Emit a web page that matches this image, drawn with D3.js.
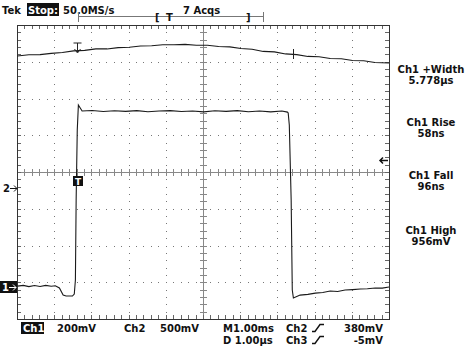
<!DOCTYPE html>
<meta charset="utf-8">
<script src="https://d3js.org/d3.v7.min.js"></script>
<style>
	body{margin:0;background:#fff;}
	text{font-family:"DejaVu Sans",sans-serif;font-size:10px;font-weight:bold;fill:#111;}
</style>
<div id="chart"></div>
<script>

// Ch1 pulse: time in µs from trigger, level in mV (200mV/div)
var ch1Time = [-1.61,-1.45,-1.3,-1.15,-1.0,-0.85,-0.7,-0.59,-0.48,-0.38,-0.3,-0.13,-0.08,-0.05,-0.03,0,0.03,0.08,
	0.13,0.4,0.7,1.0,1.3,1.6,1.9,2.2,2.5,2.8,3.1,3.4,3.7,4.0,4.3,4.6,4.9,5.2,5.5,5.65,
	5.67,5.70,5.75,5.78,5.81,5.99,6.2,6.4,6.6,6.8,7.0,7.2,7.4,7.61,7.8,8.01,8.2,8.38]
var ch1Volt = [5,9,2,8,3,9,4,7,-5,-44,-49,-49,-38,38,473,854,990,974,
	958,961,955,959,956,960,954,958,960,955,958,953,959,956,960,954,958,953,958,952,
	947,882,473,-16,-60,-44,-40,-33,-30,-22,-24,-16,-14,-11,-9,-5,-6,0]

// Ch2: time in µs, level in mV (500mV/div)
var ch2Time = [-1.61,-1.3,-1.0,-0.7,-0.4,-0.1,0.2,0.5,0.8,1.1,1.4,1.7,2.0,2.3,2.6,2.9,3.2,3.5,3.8,4.1,4.4,4.7,5.0,5.3,5.6,5.9,6.2,6.5,6.8,7.1,7.4,7.7,8.0,8.38]
var ch2Volt = [1796,1812,1815,1832,1844,1866,1872,1892,1892,1910,1914,1932,1935,1948,1948,1954,1942,1942,1926,1920,1898,1888,1858,1852,1824,1814,1790,1786,1762,1758,1735,1731,1708,1701]

var readoutNames = ["Ch1 +Width","Ch1 Rise","Ch1 Fall","Ch1 High"]
var readoutValues = ["5.778µs","58ns","96ns","956mV"]

var statusTop = ["200mV","Ch2","500mV","M1.00ms","Ch2","380mV"]
var statusBottom = ["D 1.00µs","Ch3","-5mV"]

var trigDiv = 1.62      // trigger position, divisions from left
var ch1Pos = -3.13      // ground marker, divisions from centre
var ch2Pos = -0.435

const svg = d3.select("#chart").append("svg")
	.attr("width",474).attr("height",355)

var divX = d3.scaleLinear().domain([0,10]).range([17,389])
var divY = d3.scaleLinear().domain([-4,4]).range([319,25])
var xScale = d3.scaleLinear().domain([-trigDiv,10-trigDiv]).range(divX.range())
var y1 = d3.scaleLinear().domain([(-4-ch1Pos)*200,(4-ch1Pos)*200]).range(divY.range())
var y2 = d3.scaleLinear().domain([(-4-ch2Pos)*500,(4-ch2Pos)*500]).range(divY.range())

var grid = svg.append("g")
var minorX = d3.range(0,50.01,1).map(d=>d/5)
var minorY = d3.range(-20,20.01,1).map(d=>d/5)

// dotted grid lines
for(var i=1;i<10;i++){
	if(i==5) continue
	minorY.forEach(function(v){
		grid.append("rect").attr("x",Math.round(divX(i))).attr("y",Math.round(divY(v))).attr("width",1).attr("height",1).attr("fill","#777")
	})
}
for(var j=-3;j<=3;j++){
	if(j==0) continue
	minorX.forEach(function(v){
		grid.append("rect").attr("x",Math.round(divX(v))).attr("y",Math.round(divY(j))).attr("width",1).attr("height",1).attr("fill","#777")
	})
}
// centre cross with minor ticks
grid.append("line").attr("x1",divX(0)).attr("x2",divX(10)).attr("y1",divY(0)+0.5).attr("y2",divY(0)+0.5).attr("stroke","#888")
grid.append("line").attr("x1",divX(5)+0.5).attr("x2",divX(5)+0.5).attr("y1",divY(-4)).attr("y2",divY(4)).attr("stroke","#888")
minorX.forEach(function(v){
	var px = Math.round(divX(v))+0.5
	grid.append("line").attr("x1",px).attr("x2",px).attr("y1",divY(0)-3).attr("y2",divY(0)+4).attr("stroke","#888")
	grid.append("line").attr("x1",px).attr("x2",px).attr("y1",divY(4)).attr("y2",divY(4)+4).attr("stroke","#666")
	grid.append("line").attr("x1",px).attr("x2",px).attr("y1",divY(-4)).attr("y2",divY(-4)-4).attr("stroke","#666")
})
minorY.forEach(function(v){
	var py = Math.round(divY(v))+0.5
	grid.append("line").attr("y1",py).attr("y2",py).attr("x1",divX(5)-3).attr("x2",divX(5)+4).attr("stroke","#888")
	grid.append("line").attr("y1",py).attr("y2",py).attr("x1",divX(0)).attr("x2",divX(0)+4).attr("stroke","#666")
	grid.append("line").attr("y1",py).attr("y2",py).attr("x1",divX(10)).attr("x2",divX(10)-4).attr("stroke","#666")
})
grid.append("rect").attr("x",divX(0)+0.5).attr("y",divY(4)+0.5)
	.attr("width",divX(10)-divX(0)).attr("height",divY(-4)-divY(4))
	.attr("fill","none").attr("stroke","#333")

// traces
var line1 = d3.line().x(function(d,i){return xScale(ch1Time[i])}).y(function(d){return y1(d)})
var line2 = d3.line().x(function(d,i){return xScale(ch2Time[i])}).y(function(d){return y2(d)})
svg.append("path").datum(ch1Volt).attr("d",line1).attr("fill","none").attr("stroke","#1a1a1a").attr("stroke-width",1.1)
svg.append("path").datum(ch2Volt).attr("d",line2).attr("fill","none").attr("stroke","#1a1a1a").attr("stroke-width",1.1)

// gating markers on ch2
var mx = Math.round(xScale(0))+0.5, my = Math.round(y2(1872))
svg.append("path").attr("d","M"+(mx-4)+","+(my-7)+"H"+(mx+4)+"M"+mx+","+(my-7)+"V"+(my+2)).attr("stroke","#222").attr("fill","none")
svg.append("path").attr("d","M"+(mx-3)+","+(my-1)+"L"+mx+","+(my+3)+"L"+(mx+3)+","+(my-1)).attr("stroke","#222").attr("fill","none")
var gx = Math.round(xScale(5.8))+0.5, gy = Math.round(y2(1820))
svg.append("line").attr("x1",gx).attr("x2",gx).attr("y1",gy-5).attr("y2",gy+5).attr("stroke","#222")

// trigger marker on screen
var tx = Math.round(xScale(0))
svg.append("rect").attr("x",tx-4).attr("y",176).attr("width",10).attr("height",10).attr("fill","#111")
svg.append("text").attr("x",tx+1).attr("y",185).attr("text-anchor","middle").style("font-size","9px").style("fill","#fff").text("T")

// channel ground markers
var g2 = Math.round(divY(ch2Pos))
svg.append("text").attr("x",3).attr("y",g2+4).text("2")
svg.append("path").attr("d","M10,"+(g2+0.5)+"H17M14,"+(g2-2.5)+"L17,"+(g2+0.5)+"L14,"+(g2+3.5)).attr("stroke","#111").attr("fill","none")
var g1 = Math.round(divY(ch1Pos))
svg.append("rect").attr("x",0).attr("y",g1-6).attr("width",17).attr("height",12).attr("fill","#111")
svg.append("text").attr("x",2).attr("y",g1+4).style("fill","#fff").text("1")
svg.append("path").attr("d","M9,"+(g1+0.5)+"H16M13,"+(g1-2.5)+"L16,"+(g1+0.5)+"L13,"+(g1+3.5)).attr("stroke","#fff").attr("fill","none")

// trigger level arrow at right
var ta = 160
svg.append("path").attr("d","M"+(divX(10)-1)+","+(ta+0.5)+"H"+(divX(10)-9)+"M"+(divX(10)-6)+","+(ta-2.5)+"L"+(divX(10)-9)+","+(ta+0.5)+"L"+(divX(10)-6)+","+(ta+3.5)).attr("stroke","#111").attr("stroke-width",1.5).attr("fill","none")

// header
svg.append("text").attr("x",2).attr("y",14).text("Tek")
svg.append("rect").attr("x",27).attr("y",3).attr("width",32).attr("height",13).attr("fill","#111")
svg.append("text").attr("x",28).attr("y",14).style("fill","#fff").text("Stop:")
svg.append("text").attr("x",63).attr("y",14).text("50.0MS/s")
svg.append("text").attr("x",183).attr("y",14).text("7 Acqs")

// record view bar
svg.append("line").attr("x1",78).attr("x2",264).attr("y1",16.5).attr("y2",16.5).attr("stroke","#777")
svg.append("line").attr("x1",78.5).attr("x2",78.5).attr("y1",12).attr("y2",22).attr("stroke","#777")
svg.append("line").attr("x1",263.5).attr("x2",263.5).attr("y1",12).attr("y2",22).attr("stroke","#777")
svg.append("text").attr("x",155).attr("y",21).text("[")
svg.append("text").attr("x",166).attr("y",21).text("T")
svg.append("text").attr("x",246).attr("y",21).text("]")

// measurement readouts
var readY = [73,126,179,234]
readoutNames.forEach(function(n,i){
	svg.append("text").attr("x",431).attr("y",readY[i]).attr("text-anchor","middle").text(n)
	svg.append("text").attr("x",431).attr("y",readY[i]+11).attr("text-anchor","middle").text(readoutValues[i])
})

// status line
svg.append("rect").attr("x",21).attr("y",322).attr("width",23).attr("height",12).attr("fill","#111")
svg.append("text").attr("x",23).attr("y",332).style("fill","#fff").text("Ch1")
var topX = [57,124,160,223,286,383]
statusTop.forEach(function(t,i){
	svg.append("text").attr("x",topX[i]).attr("y",332).attr("text-anchor",i==5?"end":"start").text(t)
})
var botX = [223,286,383]
statusBottom.forEach(function(t,i){
	svg.append("text").attr("x",botX[i]).attr("y",344).attr("text-anchor",i==2?"end":"start").text(t)
})
// rising slope symbols
;[332,344].forEach(function(b){
	svg.append("path").attr("d","M312,"+(b-0.5)+"H315L320,"+(b-7.5)+"H324").attr("stroke","#111").attr("stroke-width",1.4).attr("fill","none")
})

</script>
